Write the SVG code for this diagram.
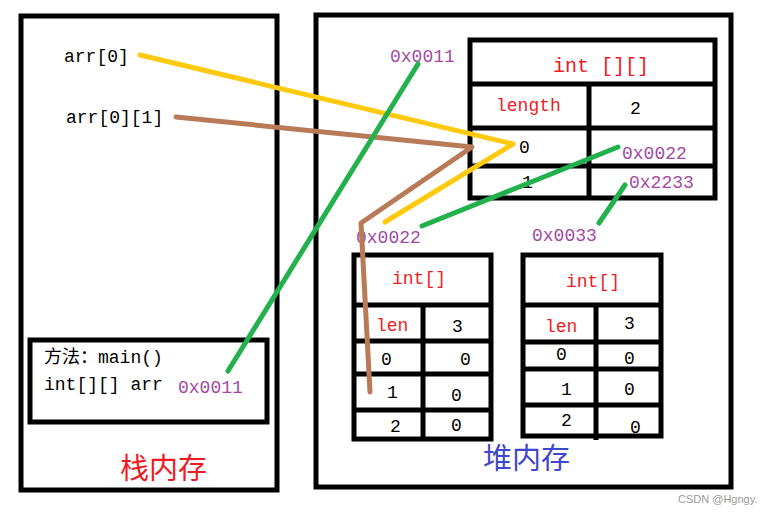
<svg xmlns="http://www.w3.org/2000/svg" width="771" height="518" viewBox="0 0 771 518">
<style>
.box{fill:none;stroke:#000;stroke-width:5}
.ln{stroke:#000;stroke-width:5;fill:none}
.t{font-family:"Liberation Mono","Noto Sans CJK SC",monospace;font-size:18px;fill:#000}
.red{fill:#ed1c24}
.pur{fill:#a349a4}
.big{font-family:"Noto Sans CJK SC",serif;font-size:29px}
.c{fill:none;stroke-width:5;stroke-linecap:round;stroke-linejoin:round}
.y{stroke:#ffc90e}
.b{stroke:#b97a57}
.g{stroke:#22b14c}
</style>
<rect width="771" height="518" fill="#fff"/>
<g id="stack">
<rect class="box" x="21" y="16" width="256" height="474"/>
<text class="t" x="64" y="62">arr[0]</text>
<text class="t" x="66" y="123">arr[0][1]</text>
<text class="big red" x="120" y="479">栈内存</text>
</g>
<g id="method-frame">
<rect class="box" x="30" y="340" width="237" height="82"/>
<text class="t" x="44" y="363">方法：main()</text>
<text class="t" x="44" y="390">int[][] arr</text>
<text class="t pur" x="178" y="393">0x0011</text>
</g>
<g id="heap">
<rect class="box" x="316" y="15" width="415" height="472"/>
<text class="big" x="483" y="469" fill="#3f48cc">堆内存</text>
<text class="t pur" x="390" y="62">0x0011</text>
<text class="t pur" x="356" y="243">0x0022</text>
<text class="t pur" x="532" y="241">0x0033</text>
</g>
<g id="table-2d">
<rect class="box" x="470" y="40" width="245" height="158"/>
<path class="ln" d="M470 84H717M470 128H715M470 166H717M589 84V200"/>
<text class="t red" x="553" y="72" style="font-size:20px">int [][]</text>
<text class="t red" x="496" y="111">length</text>
<text class="t" x="630" y="114">2</text>
<text class="t" x="519" y="153">0</text>
<text class="t" x="522" y="188">1</text>
<text class="t pur" x="622" y="159">0x0022</text>
<text class="t pur" x="629" y="188">0x2233</text>
</g>
<g id="table-a">
<rect class="box" x="354" y="255" width="137" height="184"/>
<path class="ln" d="M354 305H491M354 341H491M354 374H491M354 410H491M423 305V439"/>
<text class="t red" x="392" y="284">int[]</text>
<text class="t red" x="376" y="331">len</text>
<text class="t" x="452" y="332">3</text>
<text class="t" x="381" y="365">0</text>
<text class="t" x="460" y="365">0</text>
<text class="t" x="387" y="398">1</text>
<text class="t" x="451" y="401">0</text>
<text class="t" x="390" y="432">2</text>
<text class="t" x="451" y="431">0</text>
</g>
<g id="table-b">
<rect class="box" x="523" y="255" width="138" height="181"/>
<path class="ln" d="M521 305H661M521 342H661M523 369H661M523 405H661M596 305V440"/>
<text class="t red" x="566" y="287">int[]</text>
<text class="t red" x="545" y="332">len</text>
<text class="t" x="624" y="329">3</text>
<text class="t" x="556" y="360">0</text>
<text class="t" x="624" y="364">0</text>
<text class="t" x="561" y="395">1</text>
<text class="t" x="624" y="395">0</text>
<text class="t" x="561" y="426">2</text>
<text class="t" x="630" y="433">0</text>
</g>
<g id="connectors">
<polyline class="c y" points="140,55 513,144 385,222"/>
<polyline class="c b" points="176,117 472,147 361,223 370,392"/>
<line class="c g" x1="228" y1="371" x2="418" y2="64"/>
<line class="c g" x1="422" y1="226" x2="618" y2="147"/>
<line class="c g" x1="599" y1="223" x2="625" y2="185"/>
</g>
<text x="678" y="503" font-family="Liberation Sans, sans-serif" font-size="11" fill="#999">CSDN @Hgngy.</text>
</svg>
